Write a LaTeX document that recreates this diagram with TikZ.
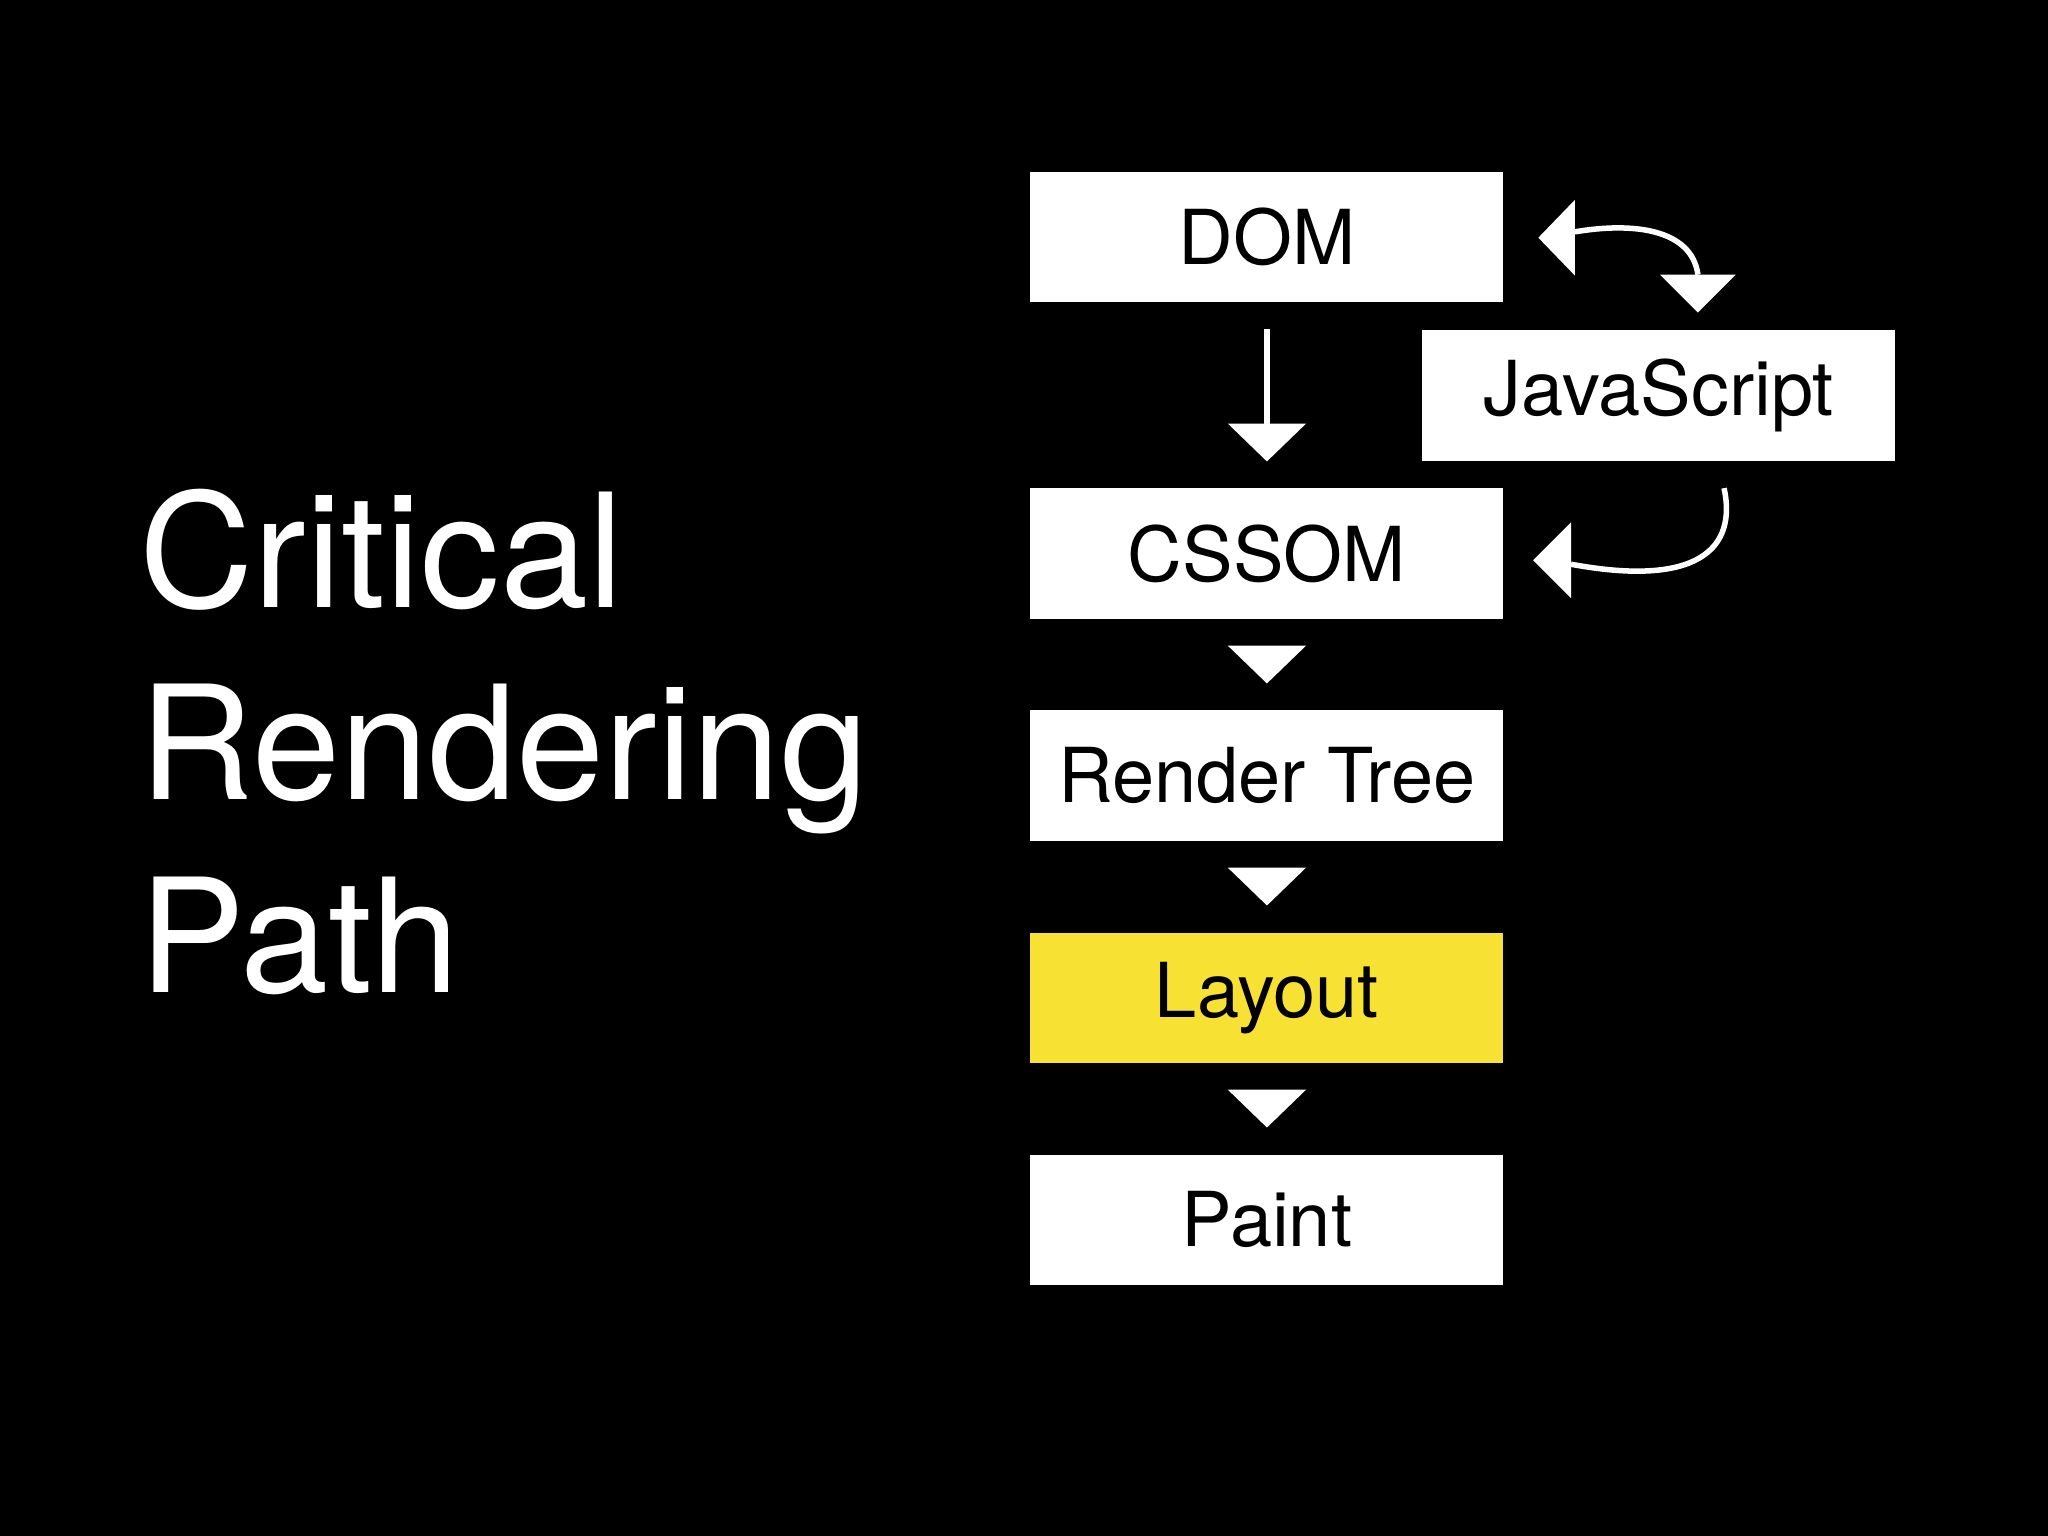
\documentclass[tikz,border=0pt]{standalone}
\usepackage{fontspec}
\setmainfont{TeX Gyre Heros}
\usetikzlibrary{calc}
\definecolor{ly}{HTML}{F7E233}
\begin{document}
\begin{tikzpicture}[x=0.01cm,y=-0.01cm,
  box/.style={draw=none,fill=white,minimum width=362\pgflinewidth,inner sep=0,text=black,font=\fontsize{16.5}{18}\selectfont},
  ttl/.style={text=white,anchor=base west,inner sep=0,font=\fontsize{34.5}{40}\selectfont},
  tri/.style={fill=white}]
\fill[black] (0,0) rectangle (1568,1176);
\useasboundingbox (0,0) rectangle (1568,1176);
\tikzset{bx/.style={box,minimum width=3.62cm,minimum height=1.0cm}}
\node[bx] (dom) at (970,181.5) {DOM};
\node[bx] (js) at (1270,303) {JavaScript};
\node[bx] (css) at (970,424) {CSSOM};
\node[bx] (rt) at (970,594) {Render Tree};
\node[bx,fill=ly] (lay) at (970,764) {Layout};
\node[bx] (pt) at (970,934) {Paint};
\node[ttl] (t1) at (106,465) {Critical};
\node[ttl] (t2) at (106,612) {Rendering};
\node[ttl] (t3) at (106,760) {Path};
% down arrows
\draw[white,line width=1.2pt] ($(dom.south)+(0,20)$) -- ($(css.north)+(0,-49)$);
\foreach \a/\b in {dom/css,css/rt,rt/lay,lay/pt}{
  \fill[tri] ($(\b.north)+(-30,-49)$) -- ($(\b.north)+(30,-49)$) -- ($(\b.north)+(0,-20)$) -- cycle;}
% DOM <-> JS
\coordinate (c1) at ($(dom.east)+(53,-3)$);
\draw[white,line width=1.2pt] ($(dom.east)+(54,-4)$) .. controls (1250,170) and (1295,175) .. ($(js.north)+(30,-42)$);
\fill[tri] ($(dom.east)+(26,0.5)$) -- ($(dom.east)+(54,-28.5)$) -- ($(dom.east)+(54,29.5)$) -- cycle;
\fill[tri] ($(js.north)+(1,-42)$) -- ($(js.north)+(59,-42)$) -- ($(js.north)+(30,-13)$) -- cycle;
% JS -> CSSOM
\draw[white,line width=1.2pt] ($(js.south)+(50,20)$) .. controls (1330,420) and (1300,450) .. ($(css.east)+(51,8)$);
\fill[tri] ($(css.east)+(22,5)$) -- ($(css.east)+(51,-24)$) -- ($(css.east)+(51,34)$) -- cycle;
\end{tikzpicture}
\end{document}
